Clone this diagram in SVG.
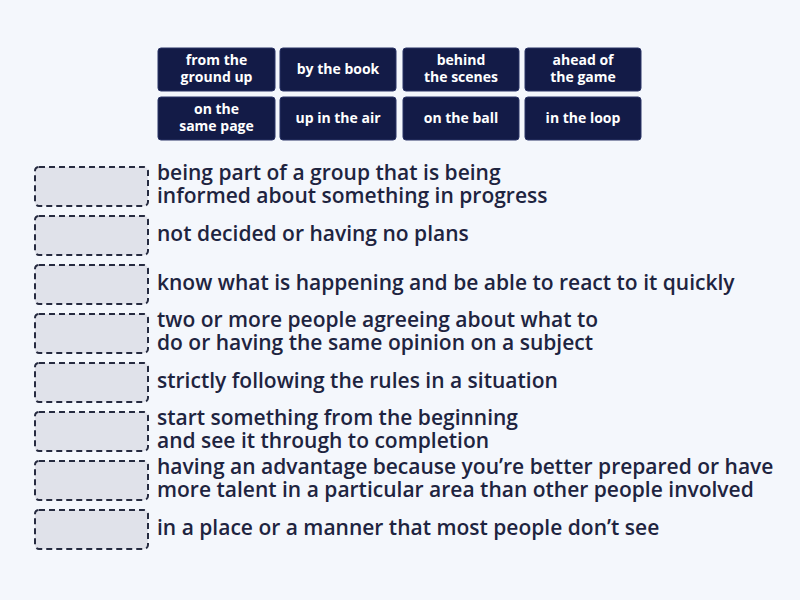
<svg xmlns="http://www.w3.org/2000/svg" width="800" height="600" viewBox="0 0 800 600">
<style>
.tile rect{fill:#131b47;stroke:#2a3466;stroke-width:1}
.tile text{fill:#fff;font-family:"Open Sans",sans-serif;font-weight:700;font-size:14px;text-anchor:middle}
.slot{fill:#e0e2ea;stroke:#262b40;stroke-width:2;stroke-dasharray:6,4}
.def{fill:#1e2440;font-family:"Open Sans",sans-serif;font-weight:600;font-size:21px}
</style>
<rect width="800" height="600" fill="#f4f7fc"/>
<g id="t1" class="tile"><rect x="158" y="48" width="117" height="43" rx="3"/><text x="216.5" y="65">from the</text><text x="216.5" y="82">ground up</text></g>
<g id="t2" class="tile"><rect x="280" y="48" width="116" height="43" rx="3"/><text x="338" y="74">by the book</text></g>
<g id="t3" class="tile"><rect x="403" y="48" width="116" height="43" rx="3"/><text x="461" y="65">behind</text><text x="461" y="82">the scenes</text></g>
<g id="t4" class="tile"><rect x="525" y="48" width="116" height="43" rx="3"/><text x="583" y="65">ahead of</text><text x="583" y="82">the game</text></g>
<g id="t5" class="tile"><rect x="158" y="97" width="117" height="43" rx="3"/><text x="216.5" y="114">on the</text><text x="216.5" y="131">same page</text></g>
<g id="t6" class="tile"><rect x="280" y="97" width="116" height="43" rx="3"/><text x="338" y="123">up in the air</text></g>
<g id="t7" class="tile"><rect x="403" y="97" width="116" height="43" rx="3"/><text x="461" y="123">on the ball</text></g>
<g id="t8" class="tile"><rect x="525" y="97" width="116" height="43" rx="3"/><text x="583" y="123">in the loop</text></g>
<g id="r1"><rect class="slot" x="35" y="167" width="113" height="39" rx="4"/><text class="def" x="157" y="180">being part of a group that is being</text><text class="def" x="157" y="203">informed about something in progress</text></g>
<g id="r2"><rect class="slot" x="35" y="216" width="113" height="39" rx="4"/><text class="def" x="157" y="241">not decided or having no plans</text></g>
<g id="r3"><rect class="slot" x="35" y="265" width="113" height="39" rx="4"/><text class="def" x="157" y="290">know what is happening and be able to react to it quickly</text></g>
<g id="r4"><rect class="slot" x="35" y="314" width="113" height="39" rx="4"/><text class="def" x="157" y="327">two or more people agreeing about what to</text><text class="def" x="157" y="350">do or having the same opinion on a subject</text></g>
<g id="r5"><rect class="slot" x="35" y="363" width="113" height="39" rx="4"/><text class="def" x="157" y="388">strictly following the rules in a situation</text></g>
<g id="r6"><rect class="slot" x="35" y="412" width="113" height="39" rx="4"/><text class="def" x="157" y="425">start something from the beginning</text><text class="def" x="157" y="448">and see it through to completion</text></g>
<g id="r7"><rect class="slot" x="35" y="461" width="113" height="39" rx="4"/><text class="def" x="157" y="474">having an advantage because you’re better prepared or have</text><text class="def" x="157" y="497">more talent in a particular area than other people involved</text></g>
<g id="r8"><rect class="slot" x="35" y="510" width="113" height="39" rx="4"/><text class="def" x="157" y="535">in a place or a manner that most people don’t see</text></g>
<g id="connectors"/>
</svg>
